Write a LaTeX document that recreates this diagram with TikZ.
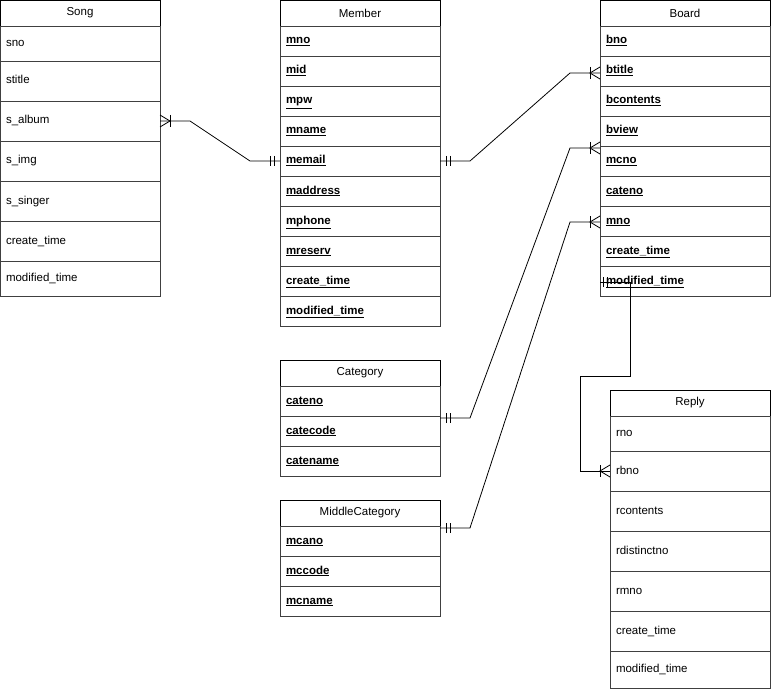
\documentclass[tikz,border=0pt]{standalone}
\usepackage{fontspec}
\setmainfont{Liberation Sans}
\usetikzlibrary{calc}
\tikzset{
  tbox/.style={draw=black, line width=0.8pt, anchor=north west, inner sep=0pt, outer sep=0pt, font=\fontsize{11.5}{13}\selectfont},
  hd/.style={tbox, align=center},
  fld/.style={tbox, draw=black!75, align=left, text height=8.5pt, text depth=2.5pt},
  conn/.style={draw=black, line width=0.8pt},
}
% \rw{name}{x}{y}{w}{h}{text}
\newcommand{\rw}[6]{\node[fld, minimum width=#4pt, minimum height=#5pt, text width=#4pt-12pt] (#1) at (#2,#3) {\strut\kern0pt#6};}
\newcommand{\hdr}[6]{\node[hd, minimum width=#4pt, minimum height=#5pt, text width=#4pt] (#1) at (#2,#3) {#6};}
\newcommand{\bu}[1]{\textbf{\underline{#1}}}
\begin{document}
\begin{tikzpicture}[x=1pt,y=-1pt]
\useasboundingbox (0,0) rectangle (771,690);
% Song
\hdr{song}{0}{0}{160}{26}{Song}
\rw{sno}{0}{26}{160}{35}{sno}
\rw{stitle}{0}{61}{160}{40}{stitle}
\rw{salbum}{0}{101}{160}{40}{s\_album}
\rw{simg}{0}{141}{160}{40}{s\_img}
\rw{ssinger}{0}{181}{160}{40}{s\_singer}
\rw{sct}{0}{221}{160}{40}{create\_time}
\rw{smt}{0}{261}{160}{35}{modified\_time}
% Member
\hdr{member}{280}{0}{160}{26}{Member}
\rw{mno}{280}{26}{160}{30}{\bu{mno}}
\rw{mid}{280}{56}{160}{30}{\bu{mid}}
\rw{mpw}{280}{86}{160}{30}{\bu{mpw}}
\rw{mname}{280}{116}{160}{30}{\bu{mname}}
\rw{memail}{280}{146}{160}{30}{\bu{memail}}
\rw{maddress}{280}{176}{160}{30}{\bu{maddress}}
\rw{mphone}{280}{206}{160}{30}{\bu{mphone}}
\rw{mreserv}{280}{236}{160}{30}{\bu{mreserv}}
\rw{mct}{280}{266}{160}{30}{\bu{create\_time}}
\rw{mmt}{280}{296}{160}{30}{\bu{modified\_time}}
% Board
\hdr{board}{600}{0}{170}{26}{Board}
\rw{bno}{600}{26}{170}{30}{\bu{bno}}
\rw{btitle}{600}{56}{170}{30}{\bu{btitle}}
\rw{bcontents}{600}{86}{170}{30}{\bu{bcontents}}
\rw{bview}{600}{116}{170}{30}{\bu{bview}}
\rw{bmcno}{600}{146}{170}{30}{\bu{mcno}}
\rw{bcateno}{600}{176}{170}{30}{\bu{cateno}}
\rw{bmno}{600}{206}{170}{30}{\bu{mno}}
\rw{bct}{600}{236}{170}{30}{\bu{create\_time}}
\rw{bmt}{600}{266}{170}{30}{\bu{modified\_time}}
% Category
\hdr{cat}{280}{360}{160}{26}{Category}
\rw{cateno}{280}{386}{160}{30}{\bu{cateno}}
\rw{catecode}{280}{416}{160}{30}{\bu{catecode}}
\rw{catename}{280}{446}{160}{30}{\bu{catename}}
% MiddleCategory
\hdr{mcat}{280}{500}{160}{26}{MiddleCategory}
\rw{mcano}{280}{526}{160}{30}{\bu{mcano}}
\rw{mccode}{280}{556}{160}{30}{\bu{mccode}}
\rw{mcname}{280}{586}{160}{30}{\bu{mcname}}
% Reply
\hdr{reply}{610}{390}{160}{26}{Reply}
\rw{rno}{610}{416}{160}{35}{rno}
\rw{rbno}{610}{451}{160}{40}{rbno}
\rw{rcont}{610}{491}{160}{40}{rcontents}
\rw{rdist}{610}{531}{160}{40}{rdistinctno}
\rw{rmno}{610}{571}{160}{40}{rmno}
\rw{rct}{610}{611}{160}{40}{create\_time}
\rw{rmt}{610}{651}{160}{37}{modified\_time}
% connectors
% Song - Member
\coordinate (a1) at (salbum.east);
\coordinate (a2) at (memail.west);
\draw[conn] (a1) -- ++(30,0) -- ($(a2)+(-30,0)$) -- (a2);
\draw[conn] ($(a1)+(0,-6)$) -- ($(a1)+(10,0)$) -- ($(a1)+(0,6)$);
\draw[conn] ($(a1)+(10,-6)$) -- ($(a1)+(10,6)$);
\draw[conn] ($(a2)+(-6,-5)$) -- ($(a2)+(-6,5)$) ($(a2)+(-10,-5)$) -- ($(a2)+(-10,5)$);
% Member - Board
\coordinate (b1) at (memail.east);
\coordinate (b2) at (btitle.west|-0,73);
\draw[conn] (b1) -- ++(30,0) -- ($(b2)+(-30,0)$) -- (b2);
% Category - Board
\coordinate (c1) at (cateno.east|-0,418);
\coordinate (c2) at (600,148);
\draw[conn] (c1) -- ++(30,0) -- ($(c2)+(-30,0)$) -- (c2);
% MiddleCategory - Board
\coordinate (d1) at (mcat.east|-0,528);
\coordinate (d2) at (bmno.west|-0,222);
\draw[conn] (d1) -- ++(30,0) -- ($(d2)+(-30,0)$) -- (d2);
\foreach \p in {b1,c1,d1}{
  \draw[conn] ($(\p)+(6,-5)$) -- ($(\p)+(6,5)$) ($(\p)+(10,-5)$) -- ($(\p)+(10,5)$);
}
\foreach \p in {b2,c2,d2}{
  \draw[conn] ($(\p)+(0,-6)$) -- ($(\p)+(-10,0)$) -- ($(\p)+(0,6)$);
  \draw[conn] ($(\p)+(-10,-6)$) -- ($(\p)+(-10,6)$);
}
% Board - Reply
\coordinate (e1) at (bmt.west|-0,282);
\coordinate (e2) at (rbno.west|-0,471);
\draw[conn] (e1) -- (630,282) -- (630,376) -- (580,376) -- (580,471) -- (e2);
\draw[conn] (603,277) -- (603,287) (607,277) -- (607,287);
\draw[conn] ($(e2)+(0,-6)$) -- ($(e2)+(-10,0)$) -- ($(e2)+(0,6)$);
\draw[conn] ($(e2)+(-10,-6)$) -- ($(e2)+(-10,6)$);
\end{tikzpicture}
\end{document}
